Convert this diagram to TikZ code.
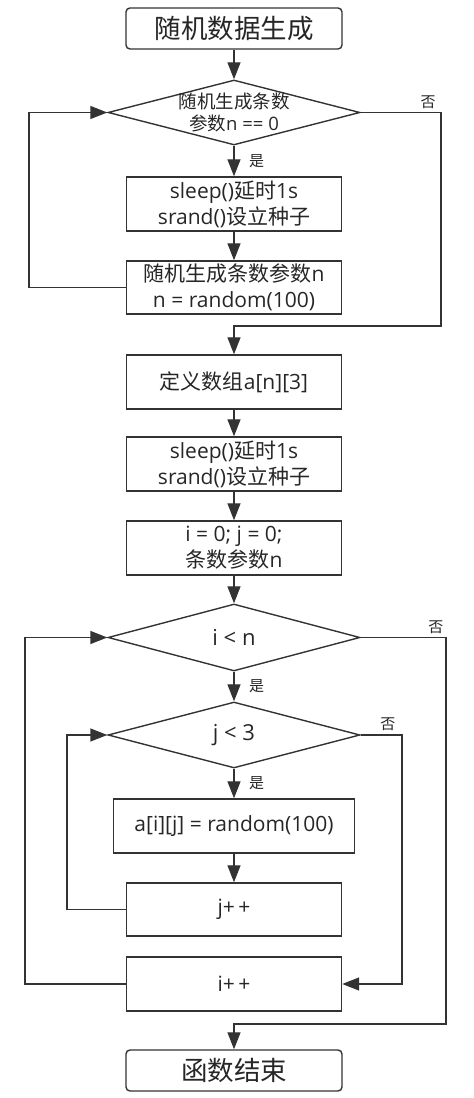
\documentclass[tikz,border=0pt]{standalone}
\usepackage{fontspec}
\setmainfont{Open Sans}
\newfontfamily\cjk{Noto Sans CJK SC}
\usetikzlibrary{shapes.geometric,arrows.meta,positioning}
\definecolor{linea}{HTML}{333333}

\begin{document}
\begin{tikzpicture}[x=1pt, y=1pt, node distance=84pt, >={Triangle[length=17pt,width=13pt]}, line width=1.4pt]
            \tikzstyle{terminal}=[rectangle, rounded corners=4pt, draw=linea, text=black!85, minimum width=216pt, minimum height=41pt, inner sep=0pt, font=\cjk\fontsize{26.5}{30}\selectfont]
            \tikzstyle{process}=[rectangle, draw=linea, text=black!85, minimum width=215pt, minimum height=54pt, inner sep=0pt, align=center, font=\fontsize{21}{26}\selectfont]
            \tikzstyle{decision}=[diamond, draw=linea, minimum width=252pt, minimum height=66pt, inner sep=0pt]
            \tikzstyle{testo}=[text=black!85, align=center, font=\fontsize{21}{26}\selectfont]
            \tikzstyle{yesno}=[text=black!85, font=\cjk\fontsize{15}{17}\selectfont]
            \tikzstyle{line}=[draw=linea, ->]

            \useasboundingbox (0,0) rectangle (474,1098);

            % Nodi
            \node[terminal] (start) at (234,1069.5) {随机数据生成};
            \node[decision, minimum height=65pt, label={[testo, font=\fontsize{18.5}{22}\selectfont]center:{\cjk 随机生成条数}\\{\cjk 参数}n == 0}, below of=start] (d1) {};
            \node[process, below of=d1, node distance=91.5pt] (b2) {sleep(){\cjk 延时}1s\\srand(){\cjk 设立种子}};
            \node[process, minimum height=53pt, below of=b2, node distance=83.5pt] (b3) {{\cjk 随机生成条数参数}n\\n = random(100)};
            \node[process, below of=b3, node distance=94.5pt] (b4) {{\cjk 定义数组}a[n][3]};
            \node[process, below of=b4, node distance=82pt] (b5) {sleep(){\cjk 延时}1s\\srand(){\cjk 设立种子}};
            \node[process, below of=b5] (b6) {i = 0; j = 0;\\{\cjk 条数参数}n};
            \node[decision, minimum height=67pt, label={[testo, font=\fontsize{22}{26}\selectfont]center:i < n}, below of=b6, node distance=89.5pt] (d2) {};
            \node[decision, label={[testo, font=\fontsize{22}{26}\selectfont]center:j < 3}, below of=d2, node distance=97.5pt] (d3) {};
            \node[process, minimum width=241pt, below of=d3, node distance=91pt] (b7) {a[i][j] = random(100)};
            \node[process, minimum height=53pt, below of=b7, node distance=83.5pt] (b8) {j+\,+};
            \node[process, below of=b8, node distance=74.5pt] (b9) {i+\,+};
            \node[terminal, below of=b9, node distance=86.5pt] (stop) {函数结束};

            % Punti di piega
            \coordinate (l1) at (29,985.5);
            \coordinate (r1) at (441,772);
            \coordinate (l2) at (25,460.5);
            \coordinate (r2) at (446,74);
            \coordinate (l3) at (67,363);
            \coordinate (r3) at (402,114);

            % Frecce
            \draw[line] (start) -- (d1);
            \draw[line] (d1) -- node[yesno, right=11pt] {是} (b2);
            \draw[line] (b2) -- (b3);
            \draw[line] (b3.west) -| (l1) -- (d1.west);
            \draw[line] (d1.east) -| node[yesno, above, pos=0.42] {否} (r1) -| (b4.north);
            \draw[line] (b4) -- (b5);
            \draw[line] (b5) -- (b6);
            \draw[line] (b6) -- (d2);
            \draw[line] (d2) -- node[yesno, right=11pt] {是} (d3);
            \draw[line] (d3) -- node[yesno, right=11pt] {是} (b7);
            \draw[line] (b7) -- (b8);
            \draw[line] (b8.west) -| (l3) -- (d3.west);
            \draw[line] (d3.east) -| node[yesno, above, pos=0.33] {否} (r3) -- (b9.east);
            \draw[line] (b9.west) -| (l2) -- (d2.west);
            \draw[line] (d2.east) -| node[yesno, above, pos=0.44] {否} (r2) -| (stop.north);
        \end{tikzpicture}
\end{document}
